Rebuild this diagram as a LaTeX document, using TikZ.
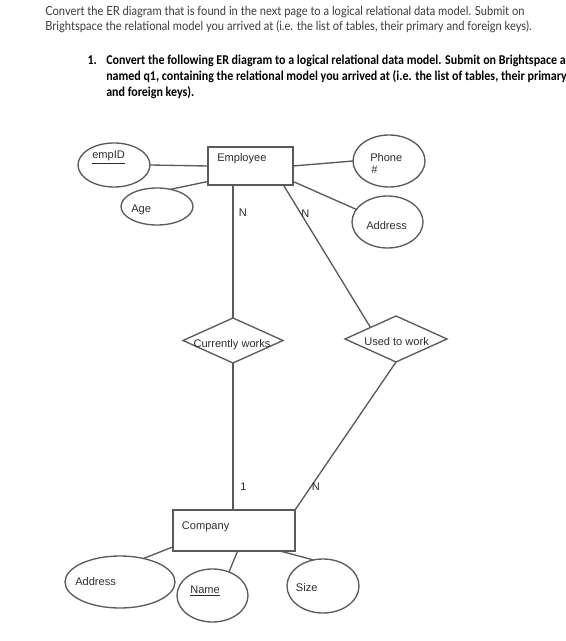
\documentclass[tikz,border=0pt]{standalone}
\usepackage{fontspec}
\setmainfont{Liberation Sans}
\newfontfamily\introfont[FakeStretch=0.89]{Lato}
\newfontfamily\itemfont[FakeStretch=0.89]{Carlito}
\usetikzlibrary{shapes.geometric}
\definecolor{lineclr}{RGB}{90,90,90}
\definecolor{txtclr}{RGB}{45,45,45}
\definecolor{introclr}{RGB}{60,60,60}

\begin{document}
\begin{tikzpicture}[x=0.75pt,y=0.75pt,yscale=-1,xscale=1,
  line/.style={color=lineclr,line width=1pt},
  attr/.style={draw=lineclr,line width=1pt,ellipse,inner sep=0pt,outer sep=0pt},
  entity/.style={draw=lineclr,line width=1pt,rectangle,inner sep=0pt,outer sep=0pt},
  rel/.style={draw=lineclr,line width=1pt,diamond,inner sep=0pt,outer sep=0pt},
  lbl/.style={anchor=base west,inner sep=0pt,text=txtclr,font=\fontsize{8.3}{10}\selectfont},
  intro/.style={anchor=base west,inner sep=0pt,text=introclr,font=\introfont\fontsize{9.4}{11}\selectfont},
  item/.style={anchor=base west,inner sep=0pt,text=black,font=\itemfont\bfseries\fontsize{10.1}{12}\selectfont}]
%set diagram size to the page
\clip (0,0) rectangle (566,641);

% Text Node
\node [intro] (intro1) at (45,16) {Convert the ER diagram that is found in the next page to a logical relational data model. Submit on};
\node [intro] (intro2) at (45,30.7) {Brightspace the relational model you arrived at (i.e. the list of tables, their primary and foreign keys).};
\node [item] (num) at (87.3,65) {1.};
\node [item] (item1) at (106,65) {Convert the following ER diagram to a logical relational data model. Submit on Brightspace a};
\node [item] (item2) at (106,81) {named q1, containing the relational model you arrived at (i.e. the list of tables, their primary};
\node [item] (item3) at (106,96.5) {and foreign keys).};

%Shape: Ellipse
\node [attr,minimum width=54pt,minimum height=33pt] (empid) at (114,165) {};
\node [attr,minimum width=54pt,minimum height=27.75pt] (age) at (157,206.5) {};
\node [attr,minimum width=54pt,minimum height=39pt] (phone) at (389,161) {};
\node [attr,minimum width=53.25pt,minimum height=39pt] (empaddr) at (387.5,222) {};
\node [attr,minimum width=82.5pt,minimum height=39pt] (compaddr) at (120,582) {};
\node [attr,minimum width=53.25pt,minimum height=39.75pt] (name) at (212.5,595.5) {};
\node [attr,minimum width=54pt,minimum height=40.5pt] (size) at (323,586) {};
%Shape: Rectangle
\node [entity,minimum width=63.75pt,minimum height=28.5pt] (emp) at (250.5,166) {};
\node [entity,minimum width=91.5pt,minimum height=30.75pt] (comp) at (234,530.5) {};
%Shape: Diamond
\node [rel,minimum width=75pt,minimum height=33.75pt] (works) at (233,340.5) {};
\node [rel,minimum width=76.5pt,minimum height=34.5pt] (worked) at (396,339) {};

%Straight Lines
\draw [line] (empid.east) -- (emp.west);
\draw [line] (age.52) -- (emp.200);
\draw [line] (emp.east) -- (phone.west);
\draw [line] (emp.-20) -- (empaddr.158);
\draw [line] (emp.south -| works.north) -- (works.north);
\draw [line] (emp.-30) -- (worked.north west);
\draw [line] (works.south) -- (works.south |- comp.north);
\draw [line] (worked.south) -- (comp.north east);
\draw [line] (comp.195) -- (compaddr.45);
\draw [line] (comp.-80) -- (name.55);
\draw [line] (comp.-24) -- (size.110);

% Text Node
\node [lbl] (empidtxt) at (92,159) {\underline{empID}};
\node [lbl] (agetxt) at (131,213) {Age};
\node [lbl] (emptxt) at (217,162) {Employee};
\node [lbl] (phonetxt) at (370,162) {Phone};
\node [lbl] (hashtxt) at (371,174) {\#};
\node [lbl] (empaddrtxt) at (366,230) {Address};
\node [lbl] (nleft) at (238.5,216.5) {N};
\node [lbl] (nright) at (301,218) {N};
\node [lbl] (workstxt) at (193.3,347) {Currently works};
\node [lbl] (workedtxt) at (364,345) {Used to work};
\node [lbl] (one) at (240,490.5) {1};
\node [lbl] (nlow) at (311.7,490.5) {N};
\node [lbl] (comptxt) at (181.7,529) {Company};
\node [lbl] (compaddrtxt) at (75,585) {Address};
\node [lbl] (nametxt) at (190,593) {\underline{Name}};
\node [lbl] (sizetxt) at (295.7,591.5) {Size};

\end{tikzpicture}
\end{document}
